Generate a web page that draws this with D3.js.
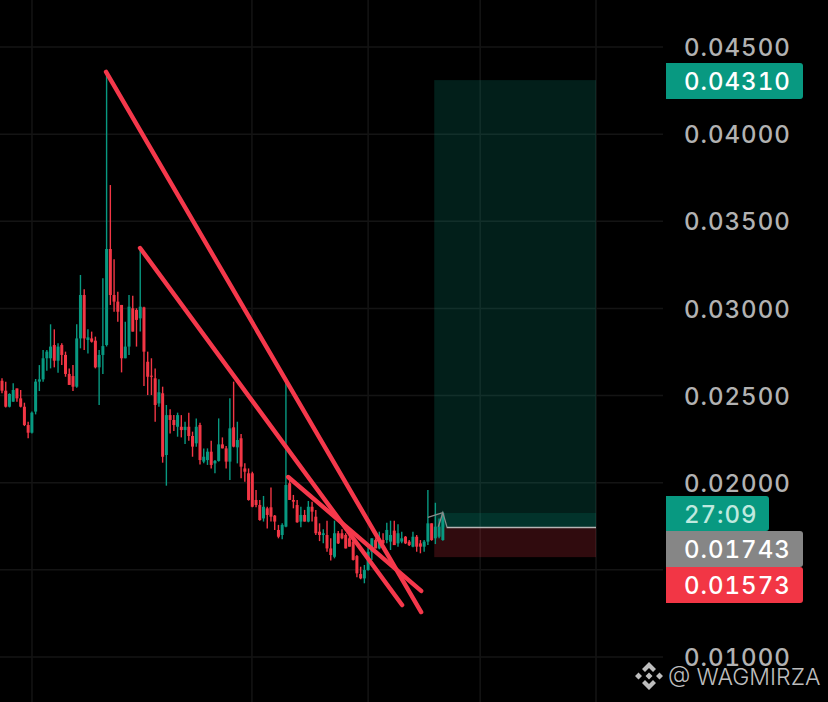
<!DOCTYPE html>
<html lang="en">
<head>
<meta charset="UTF-8">
<title>Price chart</title>
<script src="https://d3js.org/d3.v7.min.js"></script>
<style>
    html, body { margin: 0; padding: 0; background: #000; }
    svg { display: block; }
    text { font-family: Inter, "Noto Sans", sans-serif; font-variant-numeric: tabular-nums; }
</style>
</head>
<body>
<svg class="chart"></svg>
<script>
// candles, left to right
const highs = [.02599,.02580,.02513,.02570,.02541,.02532,.02459,.02350,.02408,.02595,.02675,.02761,.02761,.02909,.02880,.02800,.02800,.02752,.02656,.02675,.02909,.03192,.03110,.02880,.02867,.02838,.02761,.03173,.04357,.03708,.03282,.03096,.03020,.02924,.03077,.03073,.03001,.03345,.03010,.02752,.02714,.02656,.02593,.02551,.02446,.02421,.02388,.02402,.02388,.02350,.02402,.02293,.02369,.02344,.02197,.02197,.02241,.02130,.02369,.02260,.02211,.02484,.02580,.02350,.02280,.02111,.02082,.02063,.01958,.01901,.01924,.01862,.01972,.01815,.01758,.01767,.02599,.02035,.01930,.01901,.01862,.01844,.01895,.01891,.01844,.01767,.01733,.01782,.01681,.01782,.01723,.01733,.01710,.01710,.01690,.01585,.01518,.01528,.01642,.01681,.01681,.01719,.01710,.01771,.01782,.01782,.01761,.01719,.01694,.01671,.01719,.01700,.01671,.01671,.01958,.01767,.01885,.01795,.01834];
const lows = [.02513,.02432,.02432,.02465,.02465,.02432,.02325,.02255,.02283,.02392,.02526,.02580,.02643,.02656,.02662,.02631,.02675,.02608,.02561,.02526,.02545,.02771,.02761,.02742,.02804,.02656,.02446,.02624,.02781,.03020,.02981,.02924,.02633,.02714,.02733,.02867,.02781,.02867,.02555,.02503,.02503,.02350,.02436,.02115,.01983,.02283,.02297,.02264,.02260,.02222,.02241,.02149,.02207,.02105,.02111,.02102,.02082,.02054,.02121,.02197,.02082,.02015,.02203,.02111,.02025,.02006,.01897,.01859,.01859,.01782,.01777,.01738,.01777,.01729,.01681,.01675,.01744,.01901,.01853,.01771,.01744,.01777,.01773,.01777,.01700,.01665,.01652,.01604,.01553,.01566,.01648,.01675,.01623,.01633,.01553,.01457,.01446,.01423,.01495,.01557,.01623,.01618,.01642,.01652,.01614,.01642,.01633,.01652,.01648,.01637,.01629,.01604,.01595,.01604,.01642,.01667,.01648,.01681,.01667];
const tops = [.02585,.02528,.02509,.02532,.02541,.02484,.02436,.02331,.02402,.02580,.02593,.02714,.02752,.02781,.02790,.02781,.02790,.02733,.02624,.02612,.02828,.03077,.03077,.02834,.02828,.02815,.02733,.02784,.03341,.03341,.03077,.03039,.03020,.02781,.03010,.03001,.02991,.03010,.03006,.02694,.02614,.02599,.02519,.02513,.02388,.02388,.02360,.02388,.02321,.02321,.02321,.02268,.02321,.02331,.02149,.02178,.02178,.02125,.02220,.02220,.02197,.02312,.02318,.02245,.02255,.02082,.02054,.02054,.01901,.01872,.01862,.01853,.01859,.01811,.01729,.01758,.01987,.01997,.01901,.01872,.01815,.01815,.01862,.01862,.01805,.01719,.01710,.01700,.01623,.01710,.01710,.01710,.01700,.01681,.01662,.01579,.01476,.01499,.01604,.01681,.01671,.01671,.01671,.01729,.01700,.01725,.01710,.01681,.01690,.01662,.01690,.01690,.01652,.01662,.01767,.01767,.01748,.01748,.01825];
const bottoms = [.02528,.02436,.02436,.02465,.02484,.02436,.02331,.02287,.02287,.02408,.02580,.02593,.02714,.02714,.02700,.02700,.02733,.02624,.02561,.02551,.02551,.02828,.02828,.02819,.02809,.02662,.02662,.02733,.02790,.03077,.03039,.02981,.02714,.02714,.02781,.02867,.02934,.02943,.02752,.02608,.02608,.02446,.02455,.02149,.02159,.02360,.02331,.02321,.02302,.02302,.02268,.02207,.02226,.02130,.02121,.02130,.02102,.02111,.02125,.02197,.02121,.02121,.02207,.02203,.02092,.02063,.01901,.01862,.01872,.01786,.01795,.01815,.01805,.01777,.01690,.01700,.01748,.01901,.01891,.01773,.01777,.01777,.01777,.01834,.01710,.01700,.01700,.01623,.01585,.01575,.01652,.01681,.01623,.01633,.01557,.01480,.01451,.01451,.01499,.01604,.01623,.01623,.01652,.01671,.01662,.01642,.01652,.01662,.01652,.01642,.01633,.01633,.01633,.01633,.01662,.01671,.01681,.01690,.01671];
// which of the bars above closed up (green)
const greenBars = [2,3,8,9,10,11,12,13,15,20,21,23,26,27,28,33,34,37,42,44,47,49,52,54,55,57,58,61,63,70,75,76,80,82,86,89,97,98,99,101,103,104,106,107,110,113,114,116,117,118];

// trend lines as [bar, price] pairs
const trendLines = [
    [[27.85, .04357], [112.2, .01258]],
    [[36.95, .03347], [107.1, .01298]],
    [[76.6, .02033], [112.2, .01379]]
];
const markerA = [[114, .01801], [118, .01828]];
const markerB = [[116.8, .01747], [118, .01828], [119.1, .01747]];

// long position tool
const posStart = 115.7, posEnd = 159;
const target = .0431, entry = .01743, stop = .01573, bandTop = .01826;

const gridPrices = [.01, .015, .02, .025, .03, .035, .04, .045];
const priceLabels = [.01, .02, .025, .03, .035, .04, .045];
const timeTicks = [8.03, 66.9, 98, 128, 159];
const watermark = "@ WAGMIRZA";

const green = "#089981", red = "#f23645", gridCol = "#141414";
const width = 828, height = 702, plotRight = 663;

const x = d3.scaleLinear().domain([0, 159]).range([2, 596]);
const y = d3.scaleLinear().domain([.01, .045]).range([657, 47]);

const svg = d3.select(".chart").attr("width", width).attr("height", height);

// grid
svg.append("g").selectAll("line").data(gridPrices).join("line")
    .attr("x1", 0).attr("x2", plotRight)
    .attr("y1", d => y(d)).attr("y2", d => y(d))
    .attr("stroke", gridCol).attr("stroke-width", 1.5);
svg.append("g").selectAll("line").data(timeTicks).join("line")
    .attr("x1", d => x(d)).attr("x2", d => x(d))
    .attr("y1", 0).attr("y2", height)
    .attr("stroke", gridCol).attr("stroke-width", 1.5);

// position boxes
function box(top, bottom, fill, opacity) {
    svg.append("rect")
        .attr("x", x(posStart)).attr("width", x(posEnd) - x(posStart))
        .attr("y", y(top)).attr("height", y(bottom) - y(top))
        .attr("fill", fill).attr("fill-opacity", opacity);
}
box(target, entry, green, 0.2);
box(bandTop, entry, green, 0.17);
box(entry, stop, red, 0.2);

// candles
const bars = highs.map((h, i) => ({ i, h, l: lows[i], t: tops[i], b: bottoms[i], up: greenBars.includes(i) }));
const candles = svg.append("g").selectAll("g").data(bars).join("g")
    .attr("fill", d => d.up ? green : red)
    .attr("stroke", d => d.up ? green : red);
candles.append("line")
    .attr("x1", d => x(d.i)).attr("x2", d => x(d.i))
    .attr("y1", d => y(d.h)).attr("y2", d => y(d.l))
    .attr("stroke-width", 1.4);
candles.append("rect")
    .attr("x", d => x(d.i) - 1.5).attr("width", 3)
    .attr("y", d => y(d.t)).attr("height", d => Math.max(1, y(d.b) - y(d.t)))
    .attr("stroke", "none");

// gray marker and entry line
const line = d3.line().x(d => x(d[0])).y(d => y(d[1]));
svg.selectAll(".marker").data([markerA, markerB]).join("path")
    .attr("class", "marker").attr("d", line).attr("fill", "none")
    .attr("stroke", "#8a8a8a").attr("stroke-width", 1.3);
svg.append("line")
    .attr("x1", x(119)).attr("x2", x(posEnd))
    .attr("y1", y(entry)).attr("y2", y(entry))
    .attr("stroke", "#b5b5b5").attr("stroke-width", 1.6);

// trend lines
svg.selectAll(".trend").data(trendLines).join("path")
    .attr("class", "trend").attr("d", line).attr("fill", "none")
    .attr("stroke", "#f5384b").attr("stroke-width", 4.4).attr("stroke-linecap", "round");

// price axis
const axis = svg.append("g").attr("transform", "translate(684,1)")
    .call(d3.axisRight(y).tickValues(priceLabels).tickSize(0).tickPadding(0).tickFormat(d3.format(".5f")));
axis.select(".domain").remove();
axis.selectAll("text")
    .attr("font-size", 24).attr("font-family", "Inter, 'Noto Sans', sans-serif")
    .attr("font-weight", 500).attr("letter-spacing", 1).attr("fill", "#b2b2b2");

// price tags
const tags = [
    { label: "0.04310", top: 63, h: 36, w: 137, fill: green, text: "#fff" },
    { label: "27:09", top: 496, h: 35, w: 103, fill: green, text: "#bfe9df" },
    { label: "0.01743", top: 531, h: 36, w: 137, fill: "#868686", text: "#fff" },
    { label: "0.01573", top: 567, h: 36, w: 137, fill: red, text: "#fff" }
];
const tag = svg.append("g").selectAll("g").data(tags).join("g");
tag.append("path")
    .attr("d", d => `M666,${d.top}H${666 + d.w - 3}q3,0 3,3V${d.top + d.h - 3}q0,3 -3,3H666Z`)
    .attr("fill", d => d.fill);
tag.append("text")
    .attr("x", 684).attr("y", d => d.top + d.h / 2 + 9)
    .attr("font-size", 24).attr("font-weight", 500).attr("letter-spacing", 1)
    .attr("fill", d => d.text).text(d => d.label);

// watermark
const logo = svg.append("g").attr("transform", "translate(649,676)")
    .attr("fill", "#bdbdbd");
logo.append("path")
    .attr("d", "M0,-14L7,-7L4,-4L0,-8L-4,-4L-7,-7Z M0,14L7,7L4,4L0,8L-4,4L-7,7Z M-14,0L-10.5,-3.5L-7,0L-10.5,3.5Z M14,0L10.5,-3.5L7,0L10.5,3.5Z M0,-3.5L3.5,0L0,3.5L-3.5,0Z");
svg.append("text").attr("x", 668).attr("y", 685)
    .attr("font-size", 23).attr("font-weight", 300)
    .attr("fill", "#bdbdbd").text(watermark);
</script>
</body>
</html>
